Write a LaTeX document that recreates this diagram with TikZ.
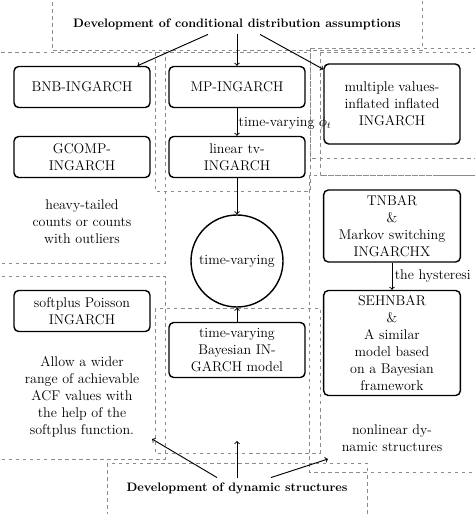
\documentclass[tikz,border=0pt]{standalone}
\usepackage{amsmath}
\usepackage{tikz}
\usetikzlibrary{arrows}
\usetikzlibrary{positioning}
\tikzset{box/.style = {draw, rounded corners = 4pt, line width = 1.2pt, minimum width = 4.08cm, minimum height = 1.23cm, align = center, inner sep = 2pt}}
\tikzset{zone/.style = {draw = zgray, dashed, line width = 0.6pt}}
\tikzset{conn/.style = {->, line width = 0.8pt}}
\tikzset{head/.style = {font = \fontsize{10.5}{12}\selectfont\bfseries, inner sep = 4pt}}
\tikzset{plain/.style = {align = center, inner sep = 1pt}}
\definecolor{zgray}{rgb}{0.55, 0.55, 0.55}

\begin{document}
\begin{tikzpicture}[x = 0.03cm, y = -0.03cm, font = \fontsize{12}{14.4}\selectfont]
  \useasboundingbox (0, 0) rectangle (474, 514);

  \draw [zone] (52, -5) rectangle (422, 50);
  \draw [zone] (-5, 52) rectangle (165, 263);
  \draw [zone] (155, 52) rectangle (310, 191);
  \draw [zone] (310, 48) rectangle (480, 158);
  \draw [zone] (320, 52) rectangle (480, 175);
  \draw [zone] (309, 175) rectangle (480, 472);
  \draw [zone] (-5, 276) rectangle (165, 459);
  \draw [zone] (155, 308) rectangle (320, 453);
  \draw [zone] (107, 463) rectangle (367, 520);

  \node [head] (ttop) at (237, 24) {Development of conditional distribution assumptions};
  \node [head] (tbot) at (237, 488) {Development of dynamic structures};

  \node [box] (bnb) at (82, 87) {BNB-INGARCH};
  \node [box] (mp) at (237, 87) {MP-INGARCH};
  \node [box, minimum height = 2.4cm] (mv) at (392, 104) {multiple values-\\inflated inflated\\INGARCH};
  \node [box] (gcomp) at (82, 157) {GCOMP-\\INGARCH};
  \node [box] (lin) at (237, 157) {linear tv-\\INGARCH};
  \node [plain] (heavy) at (82, 222) {heavy-tailed\\counts or counts\\with outliers};
  \node [draw, circle, line width = 1.2pt, minimum size = 2.76cm, inner sep = 0] (tv) at (237, 261) {time-varying};
  \node [box, minimum width = 4.1cm, minimum height = 2.16cm] (tnbar) at (392, 226) {TNBAR\\\&\\Markov switching\\INGARCHX};
  \node [box, minimum width = 4.1cm, minimum height = 3.15cm] (sehn) at (392, 343) {SEHNBAR\\\&\\A similar\\model based\\on a Bayesian\\framework};
  \node [box] (soft) at (82, 311) {softplus Poisson\\INGARCH};
  \node [box, minimum height = 1.65cm] (bay) at (237, 350) {time-varying\\Bayesian IN-\\GARCH model};
  \node [plain] (acf) at (82, 397) {Allow a wider\\range of achievable\\ACF values with\\the help of the\\softplus function.};
  \node [plain] (nonlin) at (392, 438) {nonlinear dy-\\namic structures};

  \coordinate (pacf) at (152, 439);
  \coordinate (pmid) at (237, 441);
  \coordinate (pnon) at (328, 459);

  \draw [conn] ([xshift = -0.87cm]ttop.south) -- ([xshift = -0.4cm]bnb.north east);
  \draw [conn] (ttop.south) -- (mp.north);
  \draw [conn] ([xshift = 0.69cm]ttop.south) -- ([yshift = -0.18cm]mv.north west);
  \draw [conn] (mp) -- (lin) node [pos = 0.55, right, inner sep = 1pt] {time-varying $\phi_t$};
  \draw [conn] (lin) -- (tv);
  \draw [conn] (bay) -- (tv);
  \draw [conn] (tnbar) -- (sehn) node [pos = 0.5, right, inner sep = 2pt] {the hysteresi};
  \draw [conn] ([xshift = -0.6cm]tbot.north) -- (pacf);
  \draw [conn] (tbot.north) -- (pmid);
  \draw [conn] ([xshift = 1.02cm]tbot.north) -- (pnon);
\end{tikzpicture}
\end{document}
